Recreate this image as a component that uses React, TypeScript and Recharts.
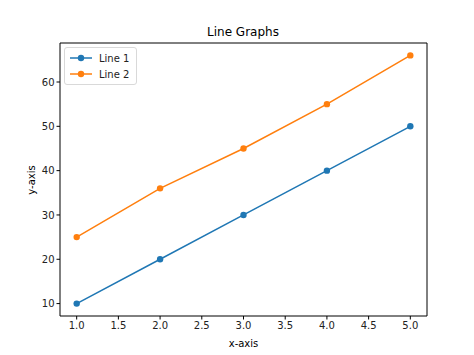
import { LineChart, Line, XAxis, YAxis, ReferenceArea } from "recharts";

const xValues = [1, 2, 3, 4, 5];
const line1 = [10, 20, 30, 40, 50];
const line2 = [25, 36, 45, 55, 66];
const xTicks = [1, 1.5, 2, 2.5, 3, 3.5, 4, 4.5, 5];
const yTicks = [10, 20, 30, 40, 50, 60];
const seriesNames = ["Line 1", "Line 2"];

const data = xValues.map((x, i) => ({ x, [seriesNames[0]]: line1[i], [seriesNames[1]]: line2[i] }));

const FONT = "'DejaVu Sans', sans-serif";
const COLORS = ["#1f77b4", "#ff7f0e"];

// matplotlib-style legend box, overlaid in the top-left corner of the plot
const LegendBox = () => (
  <div style={{ position: "absolute", left: 64, top: 47, border: "1px solid #d9d9d9", borderRadius: 3, background: "white",
    padding: "2px 7px 2px 5px", fontFamily: FONT, fontSize: 10, color: "#222" }}>
    {seriesNames.map((name, i) => (
      <div key={name} style={{ display: "flex", alignItems: "center", height: 16 }}>
        <svg width={22} height={10} style={{ marginRight: 7 }}>
          <line x1={0} y1={5} x2={22} y2={5} stroke={COLORS[i]} strokeWidth={1.5} />
          <circle cx={11} cy={5} r={3.2} fill={COLORS[i]} />
        </svg>
        <span>{name}</span>
      </div>
    ))}
  </div>
);

export default function App() {
  return (
    <div style={{ position: "absolute", left: 0, top: 0, width: 474, height: 355, background: "white" }}>
      <LineChart width={474} height={355} data={data} margin={{ top: 43, right: 47, bottom: 0, left: 0 }}>
        <text x={243} y={36} textAnchor="middle" fontFamily={FONT} fontSize={12} fill="#000">Line Graphs</text>
        <text x={0} y={0} transform="translate(35,180) rotate(-90)" textAnchor="middle" fontFamily={FONT} fontSize={10} fill="#000">y-axis</text>
        <XAxis dataKey="x" type="number" domain={[0.8, 5.2]} ticks={xTicks} allowDataOverflow
          tickFormatter={(v: number) => v.toFixed(1)} height={39} axisLine={false}
          tick={{ fontFamily: FONT, fontSize: 10, fill: "#222" }} tickLine={{ stroke: "#000" }} tickSize={3.5}
          label={{ value: "x-axis", position: "insideBottom", offset: 8, fontFamily: FONT, fontSize: 10, fill: "#000" }} />
        <YAxis type="number" domain={[7.2, 68.8]} ticks={yTicks} allowDataOverflow width={60} axisLine={false}
          tick={{ fontFamily: FONT, fontSize: 10, fill: "#222" }} tickLine={{ stroke: "#000" }} tickSize={3.5} />
        <ReferenceArea x1={0.8} x2={5.2} y1={7.2} y2={68.8} fill="none" stroke="#000" strokeWidth={1} ifOverflow="visible" />
        {seriesNames.map((name, i) => (
          <Line key={name} dataKey={name} stroke={COLORS[i]} strokeWidth={1.5}
            dot={{ r: 3.2, fill: COLORS[i], stroke: COLORS[i], strokeWidth: 0 }} isAnimationActive={false} />
        ))}
      </LineChart>
      <LegendBox />
    </div>
  );
}
